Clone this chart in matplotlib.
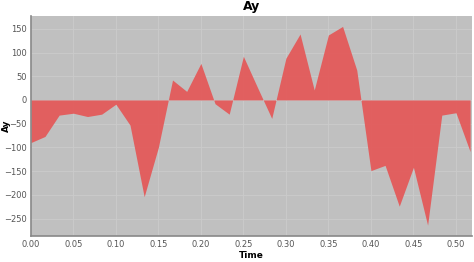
import numpy as np
import matplotlib
matplotlib.use("Agg")
import matplotlib.pyplot as plt
from matplotlib.ticker import FormatStrFormatter

czas = np.arange(32) / 60.0
ay = [-90, -77, -32, -28, -35, -30, -9, -53, -204, -100,
      42, 18, 77, -8, -30, 92, 26, -39, 88, 139,
      21, 137, 155, 63, -149, -138, -224, -142, -264, -32,
      -27, -109]

fig = plt.figure(figsize=(4.74, 2.62), dpi=100)
ax = fig.add_axes([0.065, 0.099, 0.931, 0.840])

ax.set_facecolor('#c0c0c0')
ax.fill_between(czas, ay, 0, color='#e35a5a', alpha=0.95, linewidth=0)

ax.set_xlim(0, 0.519)
ax.set_ylim(-287, 177)
ax.set_xticks(np.arange(0, 0.51, 0.05))
ax.set_yticks(np.arange(-250, 151, 50))
ax.xaxis.set_major_formatter(FormatStrFormatter('%.2f'))
ax.grid(True, color='#cbcbcb', linewidth=0.6)
ax.set_axisbelow(True)

ax.tick_params(labelsize=6, colors='#555555', length=0, pad=3)
for s in ['top', 'right']:
    ax.spines[s].set_visible(False)
for s in ['left', 'bottom']:
    ax.spines[s].set_color('#888888')
    ax.spines[s].set_linewidth(1.2)

ax.set_title('Ay', fontsize=9, fontweight='bold', pad=4)
ax.set_xlabel('Time', fontsize=6.5, fontweight='bold', labelpad=1)
ax.set_ylabel('Ay', fontsize=6.5, fontweight='bold')
ax.yaxis.set_label_coords(-0.046, 0.5)

fig.savefig('out.png', dpi=100)
